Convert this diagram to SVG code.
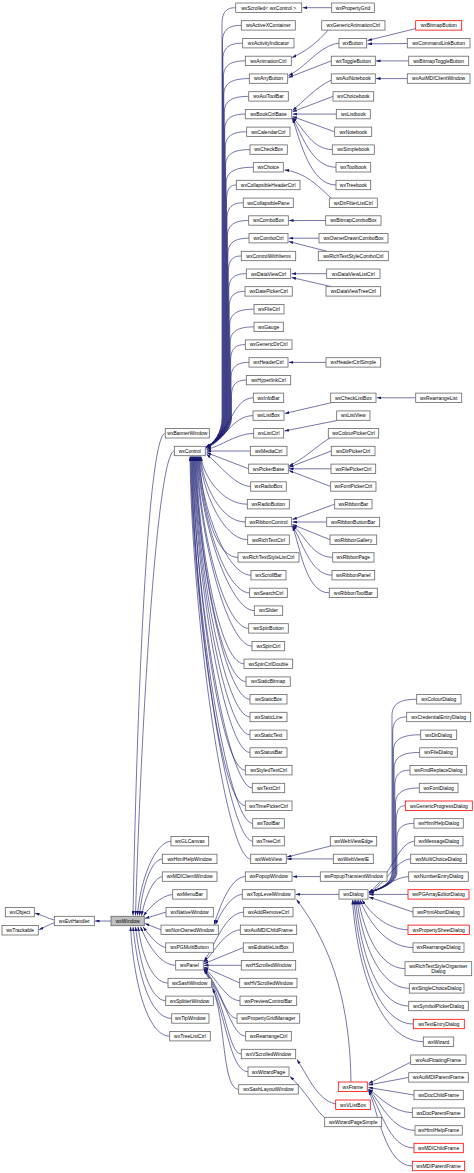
<svg xmlns="http://www.w3.org/2000/svg" width="474" height="1173" viewBox="0 0 474 1173">
<style>
rect{fill:#fff;stroke:#666;stroke-width:.8}
rect.r{stroke:#f00}
rect.g{fill:#bfbfbf}
text{font-family:"Liberation Sans",Arial,sans-serif;font-size:5px;text-anchor:middle;fill:#000}
#edges path{fill:none;stroke:#191970;stroke-width:.6;marker-end:url(#a)}
</style>
<defs>
<marker id="a" viewBox="0 0 6 4" refX="6" refY="2" markerWidth="4.5" markerHeight="3" markerUnits="userSpaceOnUse" orient="auto"><path d="M0,0L6,2L0,4z" fill="#191970"/></marker>
</defs>
<rect x="0" y="0" width="474" height="1173" style="fill:#fff;stroke:none"/>
<g id="edges">
<path d="M54.3,920 C48,918.5 42,915 35,913.2"/>
<path d="M54.3,922.8 C49,924.5 44,927.5 39,929.8"/>
<path d="M111,921 L95,921"/>
<path d="M165.3,433.3 C148,434 137,700 133,915.5"/>
<path d="M174.3,451 C158,452 142,700 135.5,915.5"/>
<path d="M171,841.2 C155,842 140,880 137.5,915.5"/>
<path d="M162.3,858.9 C150,860 142,890 139.5,915.5"/>
<path d="M162.3,876.6 C153,878 145,898 141.5,915.7"/>
<path d="M172.7,894.4 C160,896 149,908 143.5,916"/>
<path d="M166,912.1 L145,918.5"/>
<path d="M161,929.8 L145,923.5"/>
<path d="M165.7,947.6 C158,946 150,936 143,926.8"/>
<path d="M175.7,965.3 C160,965 148,945 140.5,926.8"/>
<path d="M168,983 C152,983 142,955 138,926.8"/>
<path d="M165.7,1000.8 C150,1000 140,965 135.5,926.8"/>
<path d="M171.7,1018.5 C150,1018 138,975 133,926.8"/>
<path d="M169.7,1036.2 C148,1036 134,985 130.5,926.8"/>
<path d="M235.7,7.7 C228.9,7.7 222,9.7 222,23.7 L222,418 C222,432 214,444 206,447"/>
<path d="M241.3,25.4 C231.9,25.4 222.5,27.4 222.5,41.4 L222.5,418 C222.5,432 214,444 206,447"/>
<path d="M242.7,43.2 C232.8,43.2 222.9,45.2 222.9,59.2 L222.9,418 C222.9,432 214,444 206,447"/>
<path d="M245.3,60.9 C234.4,60.9 223.4,62.9 223.4,76.9 L223.4,418 C223.4,432 214,444 206,447"/>
<path d="M249.3,78.6 C236.6,78.6 223.8,80.6 223.8,94.6 L223.8,418 C223.8,432 214,444 206,447"/>
<path d="M248.7,96.4 C236.5,96.4 224.3,98.4 224.3,112.4 L224.3,418 C224.3,432 214,444 206,447"/>
<path d="M245.3,114.1 C235,114.1 224.7,116.1 224.7,130.1 L224.7,418 C224.7,432 214,444 206,447"/>
<path d="M246.7,131.8 C236,131.8 225.2,133.8 225.2,147.8 L225.2,418 C225.2,432 214,444 206,447"/>
<path d="M250,149.6 C237.8,149.6 225.6,151.6 225.6,165.6 L225.6,418 C225.6,432 214,444 206,447"/>
<path d="M253.3,167.3 C239.7,167.3 226.1,169.3 226.1,183.3 L226.1,418 C226.1,432 214,444 206,447"/>
<path d="M236.3,185 C231.4,185 226.5,187 226.5,201 L226.5,418 C226.5,432 214,444 206,447"/>
<path d="M243.3,202.8 C235.2,202.8 227,204.8 227,218.8 L227,418 C227,432 214,444 206,447"/>
<path d="M248.7,220.5 C238.1,220.5 227.4,222.5 227.4,236.5 L227.4,418 C227.4,432 214,444 206,447"/>
<path d="M249,238.2 C238.5,238.2 227.9,240.2 227.9,254.2 L227.9,418 C227.9,432 214,444 206,447"/>
<path d="M241.3,256 C234.8,256 228.3,258 228.3,272 L228.3,418 C228.3,432 214,444 206,447"/>
<path d="M246.3,273.7 C237.6,273.7 228.8,275.7 228.8,289.7 L228.8,418 C228.8,432 214,444 206,447"/>
<path d="M245,291.4 C237.1,291.4 229.2,293.4 229.2,307.4 L229.2,418 C229.2,432 214,444 206,447"/>
<path d="M254,309.2 C241.9,309.2 229.7,311.2 229.7,325.2 L229.7,418 C229.7,432 214,444 206,447"/>
<path d="M254,326.9 C242.1,326.9 230.1,328.9 230.1,342.9 L230.1,418 C230.1,432 214,444 206,447"/>
<path d="M245.3,344.6 C238,344.6 230.6,346.6 230.6,360.6 L230.6,418 C230.6,432 214,444 206,447"/>
<path d="M249,362.4 C240,362.4 231,364.4 231,378.4 L231,418 C231,432 214,444 206,447"/>
<path d="M246.3,380.1 C238.9,380.1 231.5,382.1 231.5,396.1 L231.5,418 C231.5,432 214,444 206,447"/>
<path d="M253.3,397.8 C232,398 230,435 206.5,447.5"/>
<path d="M253,415.6 C232,416 225,440 206.5,448.5"/>
<path d="M253.7,433.3 C235,434 222,446 206.5,449.5"/>
<path d="M250.3,451 L206.5,451"/>
<path d="M248.7,468.8 L206.5,452.6"/>
<path d="M250.7,486.5 C235,486 220,465 206.5,454.2"/>
<path d="M247.3,504.2 C222.3,504.2 203,475.9 201,456.5"/>
<path d="M245.3,522 C220.3,522 202.5,483 200.5,456.5"/>
<path d="M247.7,539.7 C222.7,539.7 201.9,490.1 199.9,456.5"/>
<path d="M238,557.4 C213,557.4 201.4,497.2 199.4,456.5"/>
<path d="M251,575.2 C226,575.2 200.8,504.3 198.8,456.5"/>
<path d="M249.7,592.9 C224.7,592.9 200.3,511.4 198.3,456.5"/>
<path d="M254.3,610.6 C229.3,610.6 199.7,518.4 197.7,456.5"/>
<path d="M248.7,628.4 C223.7,628.4 199.2,525.6 197.2,456.5"/>
<path d="M252,646.1 C227,646.1 198.6,532.6 196.6,456.5"/>
<path d="M244,663.8 C219,663.8 198.1,539.7 196.1,456.5"/>
<path d="M246,681.6 C221,681.6 197.5,546.8 195.5,456.5"/>
<path d="M250,699.3 C225,699.3 197,553.9 195,456.5"/>
<path d="M250,717 C225,717 196.4,561 194.4,456.5"/>
<path d="M250,734.8 C225,734.8 195.9,568.1 193.9,456.5"/>
<path d="M250,752.5 C225,752.5 195.3,575.2 193.3,456.5"/>
<path d="M245.3,770.2 C220.3,770.2 194.8,582.3 192.8,456.5"/>
<path d="M252.3,788 C227.3,788 194.2,589.4 192.2,456.5"/>
<path d="M245.3,805.7 C220.3,805.7 193.7,596.5 191.7,456.5"/>
<path d="M252.7,823.4 C227.7,823.4 193.1,603.6 191.1,456.5"/>
<path d="M252.7,841.2 C227.7,841.2 192.6,610.7 190.6,456.5"/>
<path d="M250.7,858.9 C225.7,858.9 192,617.8 190,456.5"/>
<path d="M331.7,7.7 L302.5,7.7"/>
<path d="M328,30.1 C318,42 305,52 292,57.5"/>
<path d="M339,43.2 C320,45 305,68 288.5,75.5"/>
<path d="M331.3,60.9 L288.5,77.5"/>
<path d="M416,28.5 L367.5,40.5"/>
<path d="M407.3,43.5 L367.5,43.9"/>
<path d="M408.7,60.9 L376,60.9"/>
<path d="M407.3,78.6 L376,78.6"/>
<path d="M331.3,80 C315,88 305,100 292.5,110.5"/>
<path d="M333,96.4 L292.5,111.8"/>
<path d="M336.3,114.1 L292.5,114.1"/>
<path d="M334.7,131.8 L292.5,116.5"/>
<path d="M332.3,149.6 C312,149 305,130 292.5,117.5"/>
<path d="M336,167.3 C312,167 302,135 292.5,118"/>
<path d="M336,185 C310,185 300,140 292.5,118.5"/>
<path d="M331,198 C318,186 305,172 284.5,170"/>
<path d="M325.7,220.5 L289,220.5"/>
<path d="M319,238.2 L288.8,238.2"/>
<path d="M327,251.3 L288.8,241.5"/>
<path d="M326.7,273.7 L291.5,273.7"/>
<path d="M331.7,286.7 L291.5,277.5"/>
<path d="M326,362.4 L288.8,362.4"/>
<path d="M415.7,397.8 L376.8,397.8"/>
<path d="M332,402.5 L284.8,413.5"/>
<path d="M338,420.3 L284.5,431"/>
<path d="M330,438 C318,445 305,458 289,466"/>
<path d="M331.3,451 L289,467.3"/>
<path d="M331,468.8 L289,468.8"/>
<path d="M330.7,486.5 L289,470.5"/>
<path d="M334.7,504.2 L292.5,519.5"/>
<path d="M326.7,522 L292.5,522"/>
<path d="M330,539.7 L292.5,524.5"/>
<path d="M332.7,557.4 C312,557 305,535 292.5,525.5"/>
<path d="M332,575.2 C310,575 302,540 292.5,526"/>
<path d="M329.3,592.9 C305,593 300,545 292.5,526.5"/>
<path d="M330.7,846 L287,857"/>
<path d="M333.3,858.9 L287,858.9"/>
<path d="M320.3,876.6 L292.8,876.6"/>
<path d="M245.3,876.6 C232,877 222,900 214,924.5"/>
<path d="M242.3,894.4 C232,895 222,910 215.5,924.5"/>
<path d="M339,894.4 L295.8,894.4"/>
<path d="M351,1082 C350,1010 335,950 296.5,899.5"/>
<path d="M243.7,912.1 C225,913 215,945 204,961.5"/>
<path d="M240.3,929.8 C225,931 214,952 204,962.5"/>
<path d="M243.3,947.6 L204,963.7"/>
<path d="M241.3,965.3 L204,965.3"/>
<path d="M239.7,983 L204,967"/>
<path d="M240,1000.8 C226,1000 218,980 204,967.8"/>
<path d="M237,1018.5 C225,1018 222,990 204,968.5"/>
<path d="M245.7,1036.2 C232,1036 226,1000 204,969"/>
<path d="M241.3,1054 C228,1054 226,1000 204,969.5"/>
<path d="M248,1071.7 C228,1071 226,1005 204,970"/>
<path d="M238.7,1089.4 C222,1089 226,1020 212.5,988.5"/>
<path d="M335.7,1104 C318,1100 310,1080 297,1059.5"/>
<path d="M326,1119 C315,1110 305,1090 290,1076.5"/>
<path d="M416.7,699.3 C404.4,699.3 392,701.3 392,715.3 L392,872 C392,884 378,890 369,892"/>
<path d="M406.7,717 C399.7,717 392.7,719 392.7,733 L392.7,872 C392.7,884 378,890 369,892"/>
<path d="M420.7,734.8 C407,734.8 393.4,736.8 393.4,750.8 L393.4,872 C393.4,884 378,890 369,892"/>
<path d="M419.7,752.5 C406.9,752.5 394.1,754.5 394.1,768.5 L394.1,872 C394.1,884 378,890 369,892"/>
<path d="M410,770.2 C402.4,770.2 394.8,772.2 394.8,786.2 L394.8,872 C394.8,884 378,890 369,892"/>
<path d="M419.3,788 C407.4,788 395.5,790 395.5,804 L395.5,872 C395.5,884 378,890 369,892"/>
<path d="M405.3,805.7 C400.8,805.7 396.2,807.7 396.2,821.7 L396.2,872 C396.2,884 378,890 369,892"/>
<path d="M414,823.4 C405.5,823.4 396.9,825.4 396.9,839.4 L396.9,872 C396.9,884 378,890 369,892"/>
<path d="M414.7,841.2 C398,842 392,875 369,892.5"/>
<path d="M410.7,858.9 C395,860 385,885 369,893"/>
<path d="M408.7,876.6 C395,877 380,890 369,893.5"/>
<path d="M408,894.4 L369,894.4"/>
<path d="M413,912.1 L369,897"/>
<path d="M408,929.8 C385,929 370,912 362,900"/>
<path d="M413,947.6 C385,947 368,920 360,900"/>
<path d="M405,968.7 C378,968 364,930 358.5,900"/>
<path d="M409.3,988.4 C378,988 362,940 357,900"/>
<path d="M408.7,1006 C375,1006 360,945 355.5,900"/>
<path d="M413.3,1024 C375,1024 358,950 354,900"/>
<path d="M423.3,1041.7 C375,1041 356,955 352.5,900"/>
<path d="M411,1062 L368.5,1083.5"/>
<path d="M408.7,1077.4 L368.5,1085"/>
<path d="M414,1095 L368.5,1087.5"/>
<path d="M412.3,1112.7 C392,1112 380,1097 368.5,1089"/>
<path d="M415,1130.4 C390,1130 380,1100 368.5,1089.5"/>
<path d="M414,1148 C388,1148 380,1105 368.5,1090"/>
<path d="M412.3,1166 C385,1166 378,1110 368.5,1090.5"/>
</g>
<g id="wxObject"><rect x="5.3" y="907.4" width="29" height="9.4"/><text x="19.8" y="913.9">wxObject</text></g>
<g id="wxTrackable"><rect x="2" y="925.6" width="36.3" height="9.4"/><text x="20.15" y="932.1">wxTrackable</text></g>
<g id="wxEvtHandler"><rect x="54.3" y="916.3" width="40" height="9.4"/><text x="74.3" y="922.8">wxEvtHandler</text></g>
<g id="wxWindow"><rect class="g" x="111" y="916.3" width="33.3" height="9.4"/><text x="127.65" y="922.8">wxWindow</text></g>
<g id="wxBannerWindow"><rect x="165.3" y="428.6" width="44" height="9.4"/><text x="187.3" y="435.1">wxBannerWindow</text></g>
<g id="wxControl"><rect x="174.3" y="446.3" width="31" height="9.4"/><text x="189.8" y="452.8">wxControl</text></g>
<g id="wxGLCanvas"><rect x="171" y="836.5" width="37.7" height="9.4"/><text x="189.85" y="843">wxGLCanvas</text></g>
<g id="wxHtmlHelpWindow"><rect x="162.3" y="854.2" width="54.7" height="9.4"/><text x="189.65" y="860.7">wxHtmlHelpWindow</text></g>
<g id="wxMDIClientWindow"><rect x="162.3" y="871.9" width="54.7" height="9.4"/><text x="189.65" y="878.4">wxMDIClientWindow</text></g>
<g id="wxMenuBar"><rect x="172.7" y="889.7" width="34.3" height="9.4"/><text x="189.85" y="896.2">wxMenuBar</text></g>
<g id="wxNativeWindow"><rect x="166" y="907.4" width="47.3" height="9.4"/><text x="189.65" y="913.9">wxNativeWindow</text></g>
<g id="wxNonOwnedWindow"><rect x="161" y="925.1" width="57.3" height="9.4"/><text x="189.65" y="931.6">wxNonOwnedWindow</text></g>
<g id="wxPGMultiButton"><rect x="165.7" y="942.9" width="47.6" height="9.4"/><text x="189.5" y="949.4">wxPGMultiButton</text></g>
<g id="wxPanel"><rect x="175.7" y="960.6" width="27.6" height="9.4"/><text x="189.5" y="967.1">wxPanel</text></g>
<g id="wxSashWindow"><rect x="168" y="978.3" width="43.3" height="9.4"/><text x="189.65" y="984.8">wxSashWindow</text></g>
<g id="wxSplitterWindow"><rect x="165.7" y="996.1" width="47.6" height="9.4"/><text x="189.5" y="1002.6">wxSplitterWindow</text></g>
<g id="wxTipWindow"><rect x="171.7" y="1013.8" width="37.3" height="9.4"/><text x="190.35" y="1020.3">wxTipWindow</text></g>
<g id="wxTreeListCtrl"><rect x="169.7" y="1031.5" width="40.6" height="9.4"/><text x="190" y="1038">wxTreeListCtrl</text></g>
<g id="wxScrolled_wxControl"><rect x="235.7" y="3" width="66" height="9.4"/><text x="268.7" y="9.5">wxScrolled&lt; wxControl &gt;</text></g>
<g id="wxActiveXContainer"><rect x="241.3" y="20.7" width="54" height="9.4"/><text x="268.3" y="27.2">wxActiveXContainer</text></g>
<g id="wxActivityIndicator"><rect x="242.7" y="38.5" width="51.3" height="9.4"/><text x="268.35" y="45">wxActivityIndicator</text></g>
<g id="wxAnimationCtrl"><rect x="245.3" y="56.2" width="46" height="9.4"/><text x="268.3" y="62.7">wxAnimationCtrl</text></g>
<g id="wxAnyButton"><rect x="249.3" y="73.9" width="38.4" height="9.4"/><text x="268.5" y="80.4">wxAnyButton</text></g>
<g id="wxAuiToolBar"><rect x="248.7" y="91.7" width="39.6" height="9.4"/><text x="268.5" y="98.2">wxAuiToolBar</text></g>
<g id="wxBookCtrlBase"><rect x="245.3" y="109.4" width="46.4" height="9.4"/><text x="268.5" y="115.9">wxBookCtrlBase</text></g>
<g id="wxCalendarCtrl"><rect x="246.7" y="127.1" width="43.3" height="9.4"/><text x="268.35" y="133.6">wxCalendarCtrl</text></g>
<g id="wxCheckBox"><rect x="250" y="144.9" width="37.3" height="9.4"/><text x="268.65" y="151.4">wxCheckBox</text></g>
<g id="wxChoice"><rect x="253.3" y="162.6" width="30" height="9.4"/><text x="268.3" y="169.1">wxChoice</text></g>
<g id="wxCollapsibleHeaderCtrl"><rect x="236.3" y="180.3" width="63.7" height="9.4"/><text x="268.15" y="186.8">wxCollapsibleHeaderCtrl</text></g>
<g id="wxCollapsiblePane"><rect x="243.3" y="198.1" width="50" height="9.4"/><text x="268.3" y="204.6">wxCollapsiblePane</text></g>
<g id="wxComboBox"><rect x="248.7" y="215.8" width="39.6" height="9.4"/><text x="268.5" y="222.3">wxComboBox</text></g>
<g id="wxComboCtrl"><rect x="249" y="233.5" width="39" height="9.4"/><text x="268.5" y="240">wxComboCtrl</text></g>
<g id="wxControlWithItems"><rect x="241.3" y="251.3" width="54.4" height="9.4"/><text x="268.5" y="257.8">wxControlWithItems</text></g>
<g id="wxDataViewCtrl"><rect x="246.3" y="269" width="44.4" height="9.4"/><text x="268.5" y="275.5">wxDataViewCtrl</text></g>
<g id="wxDatePickerCtrl"><rect x="245" y="286.7" width="47.3" height="9.4"/><text x="268.65" y="293.2">wxDatePickerCtrl</text></g>
<g id="wxFileCtrl"><rect x="254" y="304.5" width="30" height="9.4"/><text x="269" y="311">wxFileCtrl</text></g>
<g id="wxGauge"><rect x="254" y="322.2" width="29.3" height="9.4"/><text x="268.65" y="328.7">wxGauge</text></g>
<g id="wxGenericDirCtrl"><rect x="245.3" y="339.9" width="46.7" height="9.4"/><text x="268.65" y="346.4">wxGenericDirCtrl</text></g>
<g id="wxHeaderCtrl"><rect x="249" y="357.7" width="39" height="9.4"/><text x="268.5" y="364.2">wxHeaderCtrl</text></g>
<g id="wxHyperlinkCtrl"><rect x="246.3" y="375.4" width="44.4" height="9.4"/><text x="268.5" y="381.9">wxHyperlinkCtrl</text></g>
<g id="wxInfoBar"><rect x="253.3" y="393.1" width="30.4" height="9.4"/><text x="268.5" y="399.6">wxInfoBar</text></g>
<g id="wxListBox"><rect x="253" y="410.9" width="31" height="9.4"/><text x="268.5" y="417.4">wxListBox</text></g>
<g id="wxListCtrl"><rect x="253.7" y="428.6" width="30" height="9.4"/><text x="268.7" y="435.1">wxListCtrl</text></g>
<g id="wxMediaCtrl"><rect x="250.3" y="446.3" width="36.7" height="9.4"/><text x="268.65" y="452.8">wxMediaCtrl</text></g>
<g id="wxPickerBase"><rect x="248.7" y="464.1" width="39.6" height="9.4"/><text x="268.5" y="470.6">wxPickerBase</text></g>
<g id="wxRadioBox"><rect x="250.7" y="481.8" width="35.6" height="9.4"/><text x="268.5" y="488.3">wxRadioBox</text></g>
<g id="wxRadioButton"><rect x="247.3" y="499.5" width="42" height="9.4"/><text x="268.3" y="506">wxRadioButton</text></g>
<g id="wxRibbonControl"><rect x="245.3" y="517.3" width="46.4" height="9.4"/><text x="268.5" y="523.8">wxRibbonControl</text></g>
<g id="wxRichTextCtrl"><rect x="247.7" y="535" width="41.6" height="9.4"/><text x="268.5" y="541.5">wxRichTextCtrl</text></g>
<g id="wxRichTextStyleListCtrl"><rect x="238" y="552.7" width="61" height="9.4"/><text x="268.5" y="559.2">wxRichTextStyleListCtrl</text></g>
<g id="wxScrollBar"><rect x="251" y="570.5" width="35" height="9.4"/><text x="268.5" y="577">wxScrollBar</text></g>
<g id="wxSearchCtrl"><rect x="249.7" y="588.2" width="37.6" height="9.4"/><text x="268.5" y="594.7">wxSearchCtrl</text></g>
<g id="wxSlider"><rect x="254.3" y="605.9" width="28.4" height="9.4"/><text x="268.5" y="612.4">wxSlider</text></g>
<g id="wxSpinButton"><rect x="248.7" y="623.7" width="39.6" height="9.4"/><text x="268.5" y="630.2">wxSpinButton</text></g>
<g id="wxSpinCtrl"><rect x="252" y="641.4" width="32.7" height="9.4"/><text x="268.35" y="647.9">wxSpinCtrl</text></g>
<g id="wxSpinCtrlDouble"><rect x="244" y="659.1" width="48.7" height="9.4"/><text x="268.35" y="665.6">wxSpinCtrlDouble</text></g>
<g id="wxStaticBitmap"><rect x="246" y="676.9" width="44.3" height="9.4"/><text x="268.15" y="683.4">wxStaticBitmap</text></g>
<g id="wxStaticBox"><rect x="250" y="694.6" width="37" height="9.4"/><text x="268.5" y="701.1">wxStaticBox</text></g>
<g id="wxStaticLine"><rect x="250" y="712.3" width="37" height="9.4"/><text x="268.5" y="718.8">wxStaticLine</text></g>
<g id="wxStaticText"><rect x="250" y="730.1" width="37" height="9.4"/><text x="268.5" y="736.6">wxStaticText</text></g>
<g id="wxStatusBar"><rect x="250" y="747.8" width="37" height="9.4"/><text x="268.5" y="754.3">wxStatusBar</text></g>
<g id="wxStyledTextCtrl"><rect x="245.3" y="765.5" width="46.7" height="9.4"/><text x="268.65" y="772">wxStyledTextCtrl</text></g>
<g id="wxTextCtrl"><rect x="252.3" y="783.3" width="32.4" height="9.4"/><text x="268.5" y="789.8">wxTextCtrl</text></g>
<g id="wxTimePickerCtrl"><rect x="245.3" y="801" width="46.7" height="9.4"/><text x="268.65" y="807.5">wxTimePickerCtrl</text></g>
<g id="wxToolBar"><rect x="252.7" y="818.7" width="31.6" height="9.4"/><text x="268.5" y="825.2">wxToolBar</text></g>
<g id="wxTreeCtrl"><rect x="252.7" y="836.5" width="31.6" height="9.4"/><text x="268.5" y="843">wxTreeCtrl</text></g>
<g id="wxWebView"><rect x="250.7" y="854.2" width="35.6" height="9.4"/><text x="268.5" y="860.7">wxWebView</text></g>
<g id="wxPopupWindow"><rect x="245.3" y="871.9" width="46.7" height="9.4"/><text x="268.65" y="878.4">wxPopupWindow</text></g>
<g id="wxTopLevelWindow"><rect x="242.3" y="889.7" width="52.7" height="9.4"/><text x="268.65" y="896.2">wxTopLevelWindow</text></g>
<g id="wxAddRemoveCtrl"><rect x="243.7" y="907.4" width="49.3" height="9.4"/><text x="268.35" y="913.9">wxAddRemoveCtrl</text></g>
<g id="wxAuiMDIChildFrame"><rect x="240.3" y="925.1" width="56.4" height="9.4"/><text x="268.5" y="931.6">wxAuiMDIChildFrame</text></g>
<g id="wxEditableListBox"><rect x="243.3" y="942.9" width="50" height="9.4"/><text x="268.3" y="949.4">wxEditableListBox</text></g>
<g id="wxHScrolledWindow"><rect x="241.3" y="960.6" width="54.4" height="9.4"/><text x="268.5" y="967.1">wxHScrolledWindow</text></g>
<g id="wxHVScrolledWindow"><rect x="239.7" y="978.3" width="57.3" height="9.4"/><text x="268.35" y="984.8">wxHVScrolledWindow</text></g>
<g id="wxPreviewControlBar"><rect x="240" y="996.1" width="56.7" height="9.4"/><text x="268.35" y="1002.6">wxPreviewControlBar</text></g>
<g id="wxPropertyGridManager"><rect x="237" y="1013.8" width="62.7" height="9.4"/><text x="268.35" y="1020.3">wxPropertyGridManager</text></g>
<g id="wxRearrangeCtrl"><rect x="245.7" y="1031.5" width="45.6" height="9.4"/><text x="268.5" y="1038">wxRearrangeCtrl</text></g>
<g id="wxVScrolledWindow"><rect x="241.3" y="1049.3" width="54.4" height="9.4"/><text x="268.5" y="1055.8">wxVScrolledWindow</text></g>
<g id="wxWizardPage"><rect x="248" y="1067" width="41" height="9.4"/><text x="268.5" y="1073.5">wxWizardPage</text></g>
<g id="wxSashLayoutWindow"><rect x="238.7" y="1084.7" width="59.6" height="9.4"/><text x="268.5" y="1091.2">wxSashLayoutWindow</text></g>
<g id="wxPropertyGrid"><rect x="331.7" y="3" width="42.6" height="9.4"/><text x="353" y="9.5">wxPropertyGrid</text></g>
<g id="wxGenericAnimationCtrl"><rect x="321.7" y="20.7" width="63.3" height="9.4"/><text x="353.35" y="27.2">wxGenericAnimationCtrl</text></g>
<g id="wxButton"><rect x="339" y="38.5" width="27.7" height="9.4"/><text x="352.85" y="45">wxButton</text></g>
<g id="wxToggleButton"><rect x="331.3" y="56.2" width="44" height="9.4"/><text x="353.3" y="62.7">wxToggleButton</text></g>
<g id="wxAuiNotebook"><rect x="331.3" y="73.9" width="44" height="9.4"/><text x="353.3" y="80.4">wxAuiNotebook</text></g>
<g id="wxChoicebook"><rect x="333" y="91.7" width="40.7" height="9.4"/><text x="353.35" y="98.2">wxChoicebook</text></g>
<g id="wxListbook"><rect x="336.3" y="109.4" width="34" height="9.4"/><text x="353.3" y="115.9">wxListbook</text></g>
<g id="wxNotebook"><rect x="334.7" y="127.1" width="37" height="9.4"/><text x="353.2" y="133.6">wxNotebook</text></g>
<g id="wxSimplebook"><rect x="332.3" y="144.9" width="42" height="9.4"/><text x="353.3" y="151.4">wxSimplebook</text></g>
<g id="wxToolbook"><rect x="336" y="162.6" width="34.7" height="9.4"/><text x="353.35" y="169.1">wxToolbook</text></g>
<g id="wxTreebook"><rect x="336" y="180.3" width="34.7" height="9.4"/><text x="353.35" y="186.8">wxTreebook</text></g>
<g id="wxDirFilterListCtrl"><rect x="329.3" y="198.1" width="48" height="9.4"/><text x="353.3" y="204.6">wxDirFilterListCtrl</text></g>
<g id="wxBitmapComboBox"><rect x="325.7" y="215.8" width="55.3" height="9.4"/><text x="353.35" y="222.3">wxBitmapComboBox</text></g>
<g id="wxOwnerDrawnComboBox"><rect x="319" y="233.5" width="69" height="9.4"/><text x="353.5" y="240">wxOwnerDrawnComboBox</text></g>
<g id="wxRichTextStyleComboCtrl"><rect x="318.3" y="251.3" width="70" height="9.4"/><text x="353.3" y="257.8">wxRichTextStyleComboCtrl</text></g>
<g id="wxDataViewListCtrl"><rect x="326.7" y="269" width="53.3" height="9.4"/><text x="353.35" y="275.5">wxDataViewListCtrl</text></g>
<g id="wxDataViewTreeCtrl"><rect x="326" y="286.7" width="54.7" height="9.4"/><text x="353.35" y="293.2">wxDataViewTreeCtrl</text></g>
<g id="wxHeaderCtrlSimple"><rect x="326" y="357.7" width="54.7" height="9.4"/><text x="353.35" y="364.2">wxHeaderCtrlSimple</text></g>
<g id="wxCheckListBox"><rect x="330.7" y="393.1" width="45.3" height="9.4"/><text x="353.35" y="399.6">wxCheckListBox</text></g>
<g id="wxListView"><rect x="336.7" y="410.9" width="33.3" height="9.4"/><text x="353.35" y="417.4">wxListView</text></g>
<g id="wxColourPickerCtrl"><rect x="328.3" y="428.6" width="50.4" height="9.4"/><text x="353.5" y="435.1">wxColourPickerCtrl</text></g>
<g id="wxDirPickerCtrl"><rect x="331.3" y="446.3" width="43.7" height="9.4"/><text x="353.15" y="452.8">wxDirPickerCtrl</text></g>
<g id="wxFilePickerCtrl"><rect x="331" y="464.1" width="44.7" height="9.4"/><text x="353.35" y="470.6">wxFilePickerCtrl</text></g>
<g id="wxFontPickerCtrl"><rect x="330.7" y="481.8" width="45.3" height="9.4"/><text x="353.35" y="488.3">wxFontPickerCtrl</text></g>
<g id="wxRibbonBar"><rect x="334.7" y="499.5" width="37.3" height="9.4"/><text x="353.35" y="506">wxRibbonBar</text></g>
<g id="wxRibbonButtonBar"><rect x="326.7" y="517.3" width="53" height="9.4"/><text x="353.2" y="523.8">wxRibbonButtonBar</text></g>
<g id="wxRibbonGallery"><rect x="330" y="535" width="46.7" height="9.4"/><text x="353.35" y="541.5">wxRibbonGallery</text></g>
<g id="wxRibbonPage"><rect x="332.7" y="552.7" width="41.3" height="9.4"/><text x="353.35" y="559.2">wxRibbonPage</text></g>
<g id="wxRibbonPanel"><rect x="332" y="570.5" width="42.7" height="9.4"/><text x="353.35" y="577">wxRibbonPanel</text></g>
<g id="wxRibbonToolBar"><rect x="329.3" y="588.2" width="48" height="9.4"/><text x="353.3" y="594.7">wxRibbonToolBar</text></g>
<g id="wxWebViewEdge"><rect x="330.3" y="836.5" width="46.4" height="9.4"/><text x="353.5" y="843">wxWebViewEdge</text></g>
<g id="wxWebViewIE"><rect x="333.3" y="854.2" width="40" height="9.4"/><text x="353.3" y="860.7">wxWebViewIE</text></g>
<g id="wxPopupTransientWindow"><rect x="320.3" y="871.9" width="66.7" height="9.4"/><text x="353.65" y="878.4">wxPopupTransientWindow</text></g>
<g id="wxDialog"><rect x="339" y="889.7" width="29" height="9.4"/><text x="353.5" y="896.2">wxDialog</text></g>
<g id="wxFrame"><rect class="r" x="338.3" y="1082" width="29" height="9.4"/><text x="352.8" y="1088.5">wxFrame</text></g>
<g id="wxVListBox"><rect class="r" x="335.7" y="1100" width="34.6" height="9.4"/><text x="353" y="1106.5">wxVListBox</text></g>
<g id="wxWizardPageSimple"><rect x="324.7" y="1117.3" width="57" height="9.4"/><text x="353.2" y="1123.8">wxWizardPageSimple</text></g>
<g id="wxBitmapButton"><rect class="r" x="415.7" y="20.7" width="46" height="9.4"/><text x="438.7" y="27.2">wxBitmapButton</text></g>
<g id="wxCommandLinkButton"><rect x="407.3" y="38.5" width="62.7" height="9.4"/><text x="438.65" y="45">wxCommandLinkButton</text></g>
<g id="wxBitmapToggleButton"><rect x="408.7" y="56.2" width="60" height="9.4"/><text x="438.7" y="62.7">wxBitmapToggleButton</text></g>
<g id="wxAuiMDIClientWindow"><rect x="407.3" y="73.9" width="62.7" height="9.4"/><text x="438.65" y="80.4">wxAuiMDIClientWindow</text></g>
<g id="wxRearrangeList"><rect x="415.7" y="393.1" width="46" height="9.4"/><text x="438.7" y="399.6">wxRearrangeList</text></g>
<g id="wxColourDialog"><rect x="416.7" y="694.6" width="44.3" height="9.4"/><text x="438.85" y="701.1">wxColourDialog</text></g>
<g id="wxCredentialEntryDialog"><rect x="406.7" y="712.3" width="64" height="9.4"/><text x="438.7" y="718.8">wxCredentialEntryDialog</text></g>
<g id="wxDirDialog"><rect x="420.7" y="730.1" width="36" height="9.4"/><text x="438.7" y="736.6">wxDirDialog</text></g>
<g id="wxFileDialog"><rect x="419.7" y="747.8" width="37.6" height="9.4"/><text x="438.5" y="754.3">wxFileDialog</text></g>
<g id="wxFindReplaceDialog"><rect x="410" y="765.5" width="56.7" height="9.4"/><text x="438.35" y="772">wxFindReplaceDialog</text></g>
<g id="wxFontDialog"><rect x="419.3" y="783.3" width="38.7" height="9.4"/><text x="438.65" y="789.8">wxFontDialog</text></g>
<g id="wxGenericProgressDialog"><rect class="r" x="405.3" y="801" width="67" height="9.4"/><text x="438.8" y="807.5">wxGenericProgressDialog</text></g>
<g id="wxHtmlHelpDialog"><rect x="414" y="818.7" width="49.3" height="9.4"/><text x="438.65" y="825.2">wxHtmlHelpDialog</text></g>
<g id="wxMessageDialog"><rect x="414.7" y="836.5" width="48.3" height="9.4"/><text x="438.85" y="843">wxMessageDialog</text></g>
<g id="wxMultiChoiceDialog"><rect x="410.7" y="854.2" width="56" height="9.4"/><text x="438.7" y="860.7">wxMultiChoiceDialog</text></g>
<g id="wxNumberEntryDialog"><rect x="408.7" y="871.9" width="59.6" height="9.4"/><text x="438.5" y="878.4">wxNumberEntryDialog</text></g>
<g id="wxPGArrayEditorDialog"><rect class="r" x="408" y="889.7" width="61" height="9.4"/><text x="438.5" y="896.2">wxPGArrayEditorDialog</text></g>
<g id="wxPrintAbortDialog"><rect x="413" y="907.4" width="51" height="9.4"/><text x="438.5" y="913.9">wxPrintAbortDialog</text></g>
<g id="wxPropertySheetDialog"><rect class="r" x="408" y="925.1" width="61.3" height="9.4"/><text x="438.65" y="931.6">wxPropertySheetDialog</text></g>
<g id="wxRearrangeDialog"><rect x="413" y="942.9" width="51" height="9.4"/><text x="438.5" y="949.4">wxRearrangeDialog</text></g>
<g id="wxRichTextStyleOrganiserDialog"><rect x="405" y="961.7" width="66.7" height="14"/><text x="438.35" y="967.5">wxRichTextStyleOrganiser</text><text x="438.35" y="973.3">Dialog</text></g>
<g id="wxSingleChoiceDialog"><rect x="409.3" y="983.7" width="54.7" height="9.4"/><text x="436.65" y="990.2">wxSingleChoiceDialog</text></g>
<g id="wxSymbolPickerDialog"><rect x="408.7" y="1001.3" width="59.6" height="9.4"/><text x="438.5" y="1007.8">wxSymbolPickerDialog</text></g>
<g id="wxTextEntryDialog"><rect class="r" x="413.3" y="1019.3" width="51" height="9.4"/><text x="438.8" y="1025.8">wxTextEntryDialog</text></g>
<g id="wxWizard"><rect x="423.3" y="1037" width="30.4" height="9.4"/><text x="438.5" y="1043.5">wxWizard</text></g>
<g id="wxAuiFloatingFrame"><rect x="410.7" y="1055" width="55.3" height="9.4"/><text x="438.35" y="1061.5">wxAuiFloatingFrame</text></g>
<g id="wxAuiMDIParentFrame"><rect x="408.7" y="1072.7" width="59.6" height="9.4"/><text x="438.5" y="1079.2">wxAuiMDIParentFrame</text></g>
<g id="wxDocChildFrame"><rect x="414" y="1090.3" width="49.3" height="9.4"/><text x="438.65" y="1096.8">wxDocChildFrame</text></g>
<g id="wxDocParentFrame"><rect x="412.3" y="1108" width="52.4" height="9.4"/><text x="438.5" y="1114.5">wxDocParentFrame</text></g>
<g id="wxHtmlHelpFrame"><rect x="415" y="1125.7" width="47.3" height="9.4"/><text x="438.65" y="1132.2">wxHtmlHelpFrame</text></g>
<g id="wxMDIChildFrame"><rect class="r" x="414" y="1143.3" width="49.3" height="9.4"/><text x="438.65" y="1149.8">wxMDIChildFrame</text></g>
<g id="wxMDIParentFrame"><rect class="r" x="412.3" y="1161.3" width="52.4" height="9.4"/><text x="438.5" y="1167.8">wxMDIParentFrame</text></g>
</svg>
